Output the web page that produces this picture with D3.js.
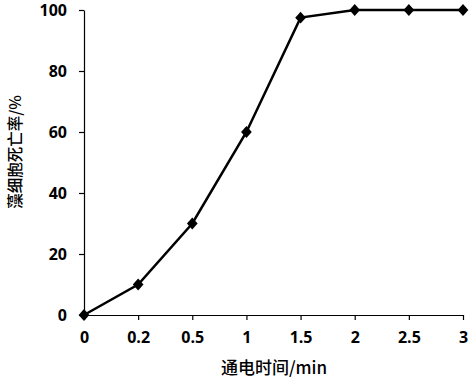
<!DOCTYPE html>
<html><head><meta charset="utf-8">
<script src="https://cdn.jsdelivr.net/npm/d3@7"></script>
<style>body{margin:0;background:#fff}svg{display:block}</style>
</head><body>
<script>
const categories = ["0","0.2","0.5","1","1.5","2","2.5","3"];
const values = [0,10,30,60,97.5,100,100,100];
const yTicks = [0,20,40,60,80,100];
const xTitle = "通电时间/min";
const yTitle = "藻细胞死亡率/%";

const W=474,H=382;
const svg=d3.select("body").append("svg").attr("width",W).attr("height",H);
const x=d3.scalePoint().domain(categories).range([84,463]);
const y=d3.scaleLinear().domain([0,100]).range([315,10]);
const font="'Open Sans','DejaVu Sans',sans-serif";

const ya=svg.append("g").attr("transform","translate(84,0)")
  .call(d3.axisLeft(y).tickValues(yTicks).tickSize(5).tickPadding(12).tickSizeOuter(0));
const xa=svg.append("g").attr("transform","translate(0,315)")
  .call(d3.axisBottom(x).tickSize(5).tickPadding(12).tickSizeOuter(0));
[ya,xa].forEach(a=>{
  a.selectAll("path,line").attr("stroke","#000").attr("stroke-width",1.2);
  a.selectAll("text").attr("fill","#000").style("font-family",font).style("font-size","16px").style("font-weight","bold");
});

const line=d3.line().x((d,i)=>x(categories[i])).y(d=>y(d));
svg.append("path").datum(values).attr("d",line).attr("fill","none").attr("stroke","#000").attr("stroke-width",2.5);
svg.selectAll("path.m").data(values).enter().append("path").attr("class","m")
  .attr("d",d3.symbol(d3.symbolDiamond2,90)())
  .attr("transform",(d,i)=>`translate(${x(categories[i])},${y(d)}) scale(0.9,1)`)
  .attr("fill","#000");

svg.append("text").attr("x",274).attr("y",374).attr("text-anchor","middle")
  .style("font-family","'Noto Sans CJK SC',sans-serif").style("font-size","17px").style("font-weight","500").text(xTitle);
svg.append("text").attr("transform","translate(21,152) rotate(-90)").attr("text-anchor","middle")
  .style("font-family","'Noto Sans CJK SC',sans-serif").style("font-size","15.5px").style("font-weight","500").text(yTitle);
</script>
</body></html>
